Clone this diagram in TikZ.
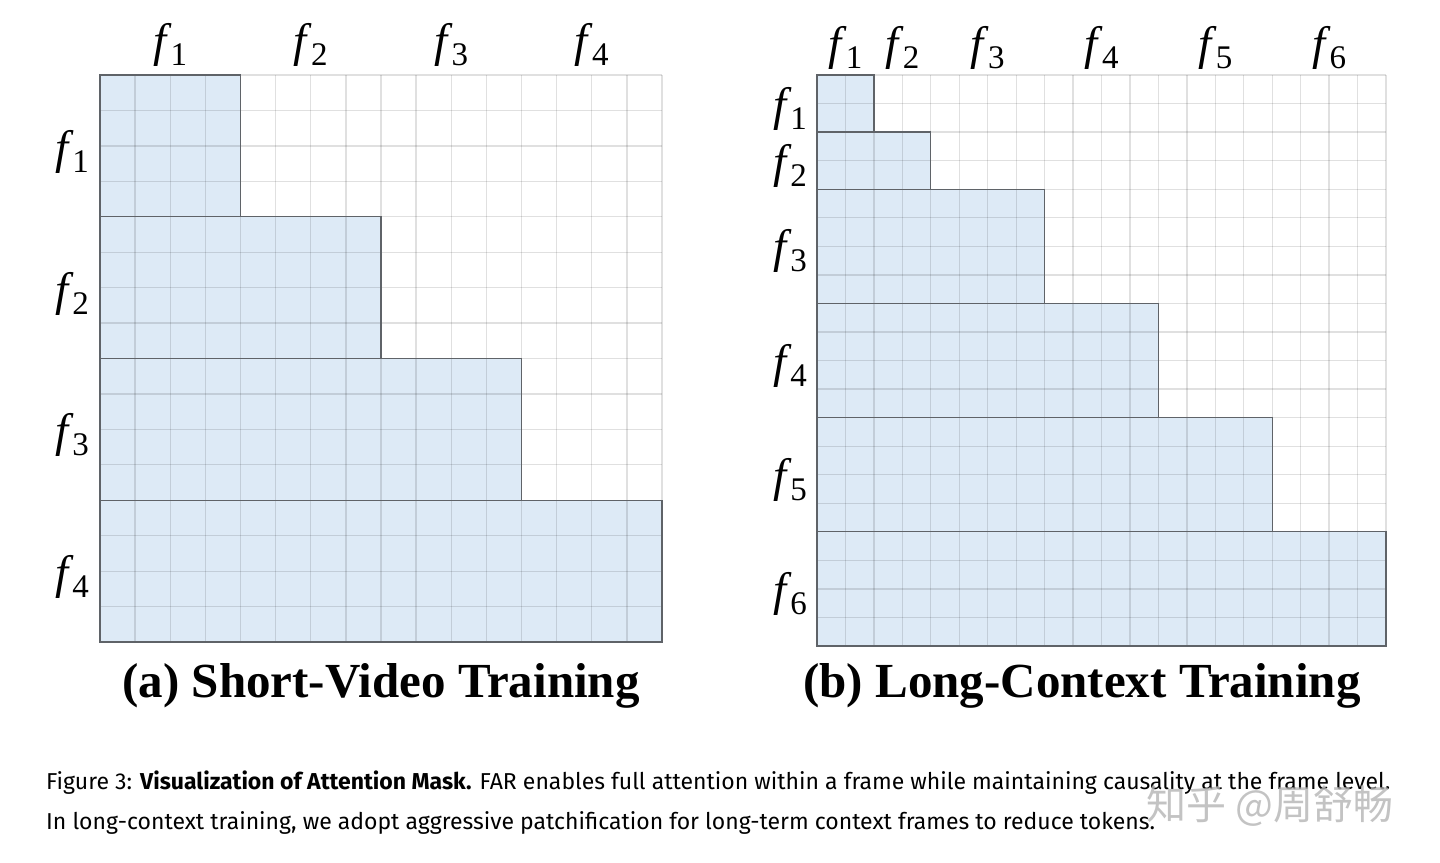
\documentclass[tikz,border=0pt]{standalone}
\usepackage{amsmath}
\usepackage{fontspec}
\setmainfont{Liberation Serif}
\newfontfamily\capfont{Fira Sans}
\newfontfamily\cjk{Noto Sans CJK SC}
\usetikzlibrary{positioning}

\definecolor{maskblue}{HTML}{DDEAF6}
\definecolor{edgegray}{HTML}{5F6368}
\definecolor{markgray}{HTML}{B4B4B4}

% frame name: italic f with a large subscript
\newcommand{\fname}[1]{\textit{f}\kern-1pt\raisebox{-9pt}{\fontsize{33}{33}\selectfont #1}}

\tikzset{
	gridline/.style={draw=black, opacity=0.12, line width=1.3pt},
	maskblock/.style={fill=maskblue},
	blockedge/.style={draw=edgegray, line width=1.3pt},
	framelabel/.style={font=\fontsize{47}{47}\selectfont, inner sep=0pt},
	subtitle/.style={font=\fontsize{49}{52}\selectfont\bfseries, inner sep=0pt},
	captext/.style={font=\capfont\fontsize{23}{26}\selectfont, anchor=base west, inner sep=0pt},
}

\begin{document}
\begin{tikzpicture}[x=1pt, y=-1pt]
		\useasboundingbox (0,0) rectangle (1440,862);
		% (a) short video: 4 frames of 4x4 tokens
		\def\aw{35.125} \def\ah{35.44}
		\foreach \k in {1,...,4}
			\fill[maskblock] (100,{75+(\k-1)*4*\ah}) rectangle ({100+\k*4*\aw},{75+\k*4*\ah});
		\foreach \i in {0,...,16} {
			\draw[gridline] ({100+\i*\aw},75) -- ({100+\i*\aw},{75+16*\ah});
			\draw[gridline] (100,{75+\i*\ah}) -- ({100+16*\aw},{75+\i*\ah});
		}
		\foreach \k in {1,...,4} {
			\draw[blockedge] (100,{75+(\k-1)*4*\ah}) rectangle ({100+\k*4*\aw},{75+\k*4*\ah});
			\node[framelabel] (atop\k) at ({100+(\k-0.5)*4*\aw},45) {\fname{\k}};
			\node[framelabel] (aleft\k) at (72,{75+(\k-0.5)*4*\ah+6}) {\fname{\k}};
		}
		\node[subtitle] (atitle) at (381,686) {(a) Short-Video Training};

		% (b) long context: patchified early frames
		\def\bw{28.45} \def\bh{28.55}
		\foreach \k/\a/\b in {1/0/2, 2/2/4, 3/4/8, 4/8/12, 5/12/16, 6/16/20}
			\fill[maskblock] (817,{75+\a*\bh}) rectangle ({817+\b*\bw},{75+\b*\bh});
		\foreach \i in {0,...,20} {
			\draw[gridline] ({817+\i*\bw},75) -- ({817+\i*\bw},{75+20*\bh});
			\draw[gridline] (817,{75+\i*\bh}) -- ({817+20*\bw},{75+\i*\bh});
		}
		\foreach \k/\a/\b in {1/0/2, 2/2/4, 3/4/8, 4/8/12, 5/12/16, 6/16/20} {
			\draw[blockedge] (817,{75+\a*\bh}) rectangle ({817+\b*\bw},{75+\b*\bh});
			\node[framelabel] (btop\k) at ({817+(\a+\b)/2*\bw},48) {\fname{\k}};
			\node[framelabel] (bleft\k) at (790,{75+(\a+\b)/2*\bh+5}) {\fname{\k}};
		}
		\node[subtitle] (btitle) at (1082,686) {(b) Long-Context Training};

		% caption
		\node[captext] (cap1) at (46,789) {Figure 3: \textbf{Visualization of Attention Mask.} FAR enables full attention within a frame while maintaining causality at the frame level.};
		\node[captext] (cap2) at (46,829) {In long-context training, we adopt aggressive patchification for long-term context frames to reduce tokens.};
		\node[font=\cjk\fontsize{40}{40}\selectfont, text=markgray, opacity=0.8, inner sep=0pt] (mark) at (1270,806) {知乎 @周舒畅};
	\end{tikzpicture}
\end{document}
